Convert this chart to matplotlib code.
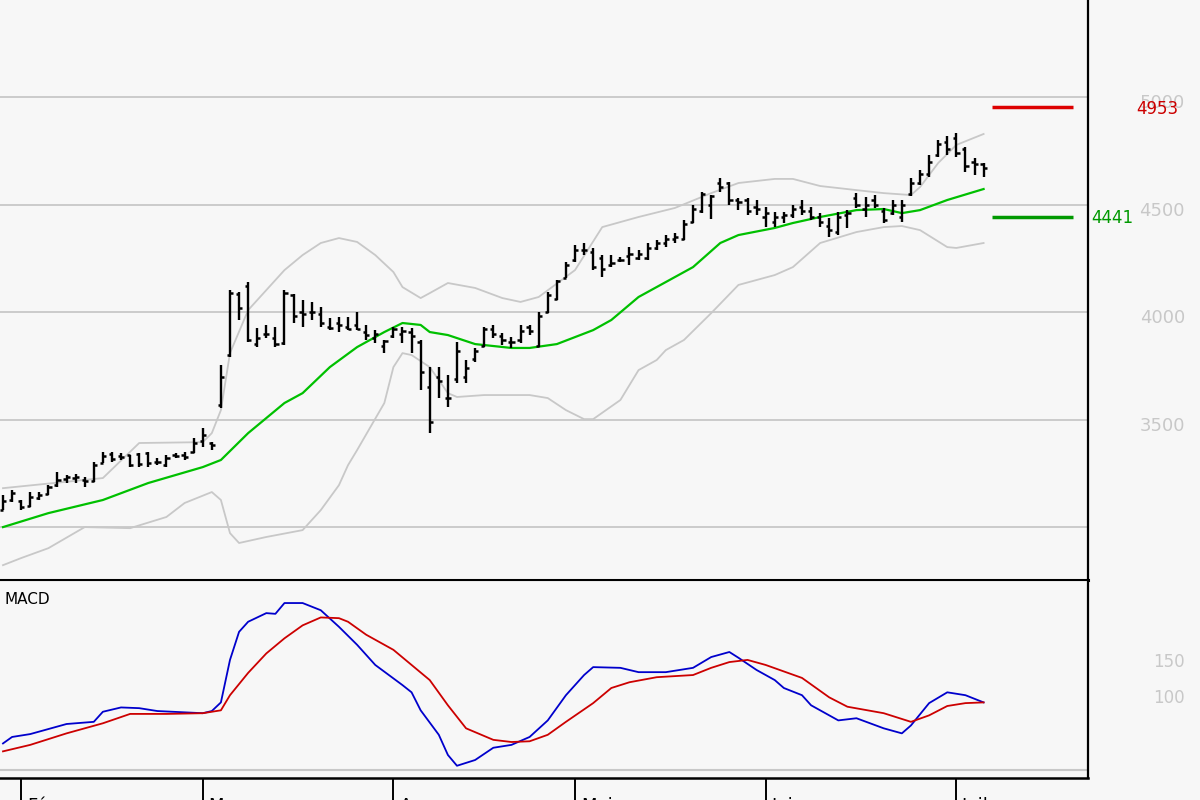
import matplotlib
matplotlib.use("Agg")
import matplotlib.pyplot as plt
import matplotlib.transforms as mtransforms

# daily OHLC
highs = [3149, 3172, 3126, 3163, 3163, 3195, 3256, 3242, 3247, 3233,
         3302, 3349, 3349, 3344, 3335, 3344, 3349, 3321, 3335, 3344,
         3349, 3414, 3460, 3395, 3753, 4102, 4093, 4140, 3926, 3940,
         3930, 4102, 4084, 4056, 4047, 4023, 3972, 3977, 3977, 4000,
         3940, 3916, 3870, 3930, 3930, 3926, 3870, 3744, 3744, 3707,
         3860, 3777, 3833, 3930, 3940, 3902, 3884, 3940, 3940, 4000,
         4093, 4149, 4233, 4312, 4321, 4298, 4265, 4265, 4256, 4302,
         4288, 4321, 4335, 4358, 4367, 4428, 4498, 4558, 4544, 4623,
         4605, 4530, 4530, 4521, 4488, 4465, 4465, 4498, 4521, 4488,
         4460, 4437, 4465, 4474, 4553, 4535, 4544, 4484, 4521, 4521,
         4623, 4660, 4730, 4800, 4819, 4832, 4767, 4716, 4693]
lows = [3079, 3116, 3079, 3093, 3126, 3149, 3186, 3205, 3205, 3186,
        3209, 3298, 3302, 3312, 3279, 3279, 3279, 3288, 3279, 3321,
        3312, 3344, 3372, 3358, 3553, 3791, 3963, 3860, 3837, 3879,
        3837, 3847, 3949, 3930, 3963, 3930, 3916, 3907, 3916, 3916,
        3870, 3856, 3809, 3879, 3856, 3809, 3637, 3437, 3600, 3558,
        3670, 3670, 3767, 3837, 3879, 3847, 3833, 3856, 3893, 3837,
        3995, 4056, 4158, 4233, 4265, 4195, 4163, 4209, 4233, 4219,
        4242, 4242, 4288, 4302, 4321, 4335, 4414, 4460, 4433, 4558,
        4498, 4474, 4451, 4451, 4395, 4395, 4414, 4437, 4451, 4428,
        4395, 4349, 4358, 4391, 4484, 4442, 4484, 4414, 4451, 4419,
        4540, 4591, 4628, 4721, 4730, 4721, 4651, 4637, 4628]
opens = [3080, 3125, 3120, 3100, 3135, 3155, 3195, 3225, 3230, 3220,
         3215, 3300, 3340, 3330, 3335, 3340, 3345, 3305, 3290, 3335,
         3335, 3350, 3400, 3390, 3570, 3800, 4085, 4120, 3850, 3900,
         3880, 3855, 4080, 4000, 4000, 3990, 3930, 3950, 3930, 3940,
         3905, 3880, 3840, 3890, 3900, 3905, 3860, 3650, 3700, 3600,
         3690, 3700, 3780, 3840, 3920, 3890, 3860, 3870, 3930, 3840,
         4000, 4060, 4160, 4240, 4290, 4280, 4250, 4220, 4240, 4260,
         4250, 4250, 4300, 4320, 4340, 4340, 4420, 4470, 4500, 4600,
         4600, 4520, 4520, 4490, 4440, 4420, 4440, 4450, 4490, 4470,
         4440, 4400, 4370, 4450, 4530, 4480, 4520, 4470, 4460, 4440,
         4550, 4600, 4640, 4730, 4790, 4810, 4760, 4700, 4690]
closes = [3120, 3160, 3095, 3140, 3150, 3185, 3220, 3235, 3235, 3215,
          3290, 3330, 3315, 3325, 3290, 3295, 3300, 3305, 3320, 3330,
          3325, 3390, 3430, 3380, 3700, 4090, 4020, 3870, 3880, 3900,
          3850, 4090, 3980, 3990, 4000, 3950, 3925, 3940, 3920, 3920,
          3895, 3900, 3865, 3920, 3910, 3890, 3720, 3490, 3680, 3600,
          3820, 3740, 3820, 3920, 3900, 3870, 3860, 3910, 3910, 3980,
          4080, 4145, 4220, 4290, 4290, 4210, 4200, 4230, 4240, 4270,
          4270, 4300, 4320, 4340, 4350, 4410, 4480, 4550, 4540, 4580,
          4520, 4510, 4470, 4480, 4460, 4440, 4450, 4480, 4470, 4440,
          4420, 4380, 4440, 4460, 4500, 4500, 4500, 4430, 4500, 4500,
          4600, 4640, 4700, 4780, 4760, 4740, 4680, 4690, 4670]

# moving average (green) sampled at bar indices
ma_idx = [0, 5, 11, 16, 22, 24, 27, 31, 33, 36, 39, 42, 44, 46, 47, 49, 52,
          56, 58, 61, 65, 67, 70, 76, 79, 81, 85, 87, 90, 94, 97, 99, 101,
          104, 108]
ma_val = [3000, 3065, 3126, 3205, 3279, 3312, 3437, 3577, 3623, 3744, 3837,
          3907, 3949, 3940, 3907, 3893, 3851, 3833, 3833, 3851, 3916, 3963,
          4070, 4209, 4321, 4358, 4391, 4414, 4442, 4474, 4479, 4460, 4474,
          4521, 4572]

# bollinger bands (grey)
up_idx = [0, 11, 15, 22, 23, 24, 25, 27, 31, 33, 35, 37, 39, 41, 43, 44, 46,
          47, 49, 52, 55, 57, 59, 63, 66, 70, 74, 78, 81, 85, 87, 90, 94, 97,
          100, 101, 103, 105, 108]
up_val = [3181, 3228, 3391, 3395, 3437, 3544, 3809, 4009, 4195, 4265, 4321,
          4344, 4326, 4265, 4186, 4116, 4065, 4088, 4135, 4112, 4065, 4047,
          4070, 4195, 4395, 4442, 4484, 4553, 4600, 4619, 4619, 4586, 4567,
          4553, 4544, 4581, 4693, 4777, 4828]
lo_idx = [0, 2, 5, 9, 14, 18, 20, 23, 24, 25, 26, 29, 33, 35, 37, 38, 39, 42,
          43, 44, 45, 47, 49, 50, 53, 58, 60, 62, 64, 65, 68, 70, 72, 73, 75,
          78, 81, 85, 87, 90, 94, 97, 99, 101, 104, 105, 108]
lo_val = [2823, 2856, 2902, 3000, 2995, 3047, 3112, 3163, 3126, 2972, 2926,
          2954, 2986, 3079, 3195, 3288, 3358, 3577, 3744, 3809, 3800, 3744,
          3623, 3605, 3614, 3614, 3600, 3544, 3502, 3502, 3591, 3730, 3777,
          3823, 3870, 3995, 4126, 4172, 4209, 4321, 4372, 4395, 4400, 4381,
          4302, 4298, 4321]

# MACD lines
macd_idx = [0, 1, 3, 7, 10, 11, 13, 15, 17, 22, 23, 24, 25, 26, 27, 29, 30,
            31, 33, 35, 37, 39, 41, 44, 45, 46, 48, 49, 50, 52, 54, 56, 58,
            60, 62, 64, 65, 68, 70, 73, 76, 78, 80, 81, 83, 85, 86, 88, 89,
            92, 94, 97, 99, 100, 102, 104, 106, 108]
macd_val = [37, 46, 50, 64, 67, 81, 87, 86, 82, 79, 82, 94, 153, 192, 206,
            218, 217, 232, 232, 222, 199, 174, 146, 118, 108, 83, 49, 21, 6,
            14, 31, 35, 46, 69, 104, 132, 143, 142, 136, 136, 142, 157, 164,
            156, 139, 125, 114, 104, 90, 69, 72, 58, 51, 62, 93, 108, 104, 94]
sig_idx = [0, 3, 7, 11, 14, 18, 22, 24, 25, 27, 29, 31, 33, 35, 37, 38, 40,
           43, 45, 47, 49, 51, 54, 56, 58, 60, 62, 65, 67, 69, 72, 76, 78,
           80, 82, 84, 88, 91, 93, 97, 100, 102, 104, 106, 108]
sig_val = [26, 35, 51, 65, 78, 78, 79, 83, 104, 135, 162, 183, 201, 212, 211,
           206, 188, 167, 146, 125, 90, 58, 42, 39, 40, 49, 67, 93, 114, 122,
           129, 132, 142, 150, 153, 146, 128, 101, 88, 79, 67, 76, 89, 93, 94]

price_grid = [3000, 3500, 4000, 4500, 5000]
price_labels = [3500, 4000, 4500, 5000]
macd_labels = [100, 150]
resistance = 4953
support = 4441
month_starts = [2, 22, 43, 63, 84, 105]
month_names = ["Févr.", "Mars", "Avr.", "Mai", "Juin", "Juil."]

bg = "#f7f7f7"
grey = "#c8c8c8"

fig = plt.figure(figsize=(12, 8), dpi=100, facecolor=bg)
ax = fig.add_axes([0, 0.275, 1088 / 1200, 0.725], facecolor=bg)
ax2 = fig.add_axes([0, 0.0275, 1088 / 1200, 0.2475], facecolor=bg, sharex=ax)

x0, x1 = -0.33, 119.5
ax.set_xlim(x0, x1)
ax.set_ylim(2754, 5451)
ax2.set_ylim(-11, 264)

for p in price_grid:
    ax.axhline(p, color=grey, lw=1.3, zorder=1)
ax2.axhline(0, color=grey, lw=1.5, zorder=1)

# bands and average
ax.plot(up_idx, up_val, color=grey, lw=1.3, zorder=2)
ax.plot(lo_idx, lo_val, color=grey, lw=1.3, zorder=2)
ax.plot(ma_idx, ma_val, color="#00c000", lw=1.6, zorder=3)

# OHLC bars
n = len(highs)
xs = list(range(n))
ax.vlines(xs, lows, highs, color="black", lw=1.7, zorder=4)
ax.hlines(opens, [i - 0.35 for i in xs], xs, color="black", lw=1.8, zorder=4)
ax.hlines(closes, xs, [i + 0.35 for i in xs], color="black", lw=1.8, zorder=4)

# resistance / support markers on the right
ax.hlines([resistance], 108.9, 117.9, color="#dd0000", lw=2.5, zorder=5)
ax.hlines([support], 108.9, 117.9, color="#009900", lw=2.5, zorder=5)

off = mtransforms.offset_copy
tr_right = mtransforms.blended_transform_factory(ax.transAxes, ax.transData)
for p in price_labels:
    ax.text(1185 / 1088, p, str(p), transform=off(tr_right, fig=fig, x=0, y=-6, units="dots"),
            ha="right", va="center", color=grey, fontsize=13, clip_on=False)
ax.text(1178 / 1088, resistance, str(resistance),
        transform=off(tr_right, fig=fig, x=0, y=-2, units="dots"),
        ha="right", va="center", color="#cc0000", fontsize=12, clip_on=False)
ax.text(1133 / 1088, support, str(support),
        transform=off(tr_right, fig=fig, x=0, y=-1, units="dots"),
        ha="right", va="center", color="#009900", fontsize=12, clip_on=False)

# MACD panel
ax2.plot(macd_idx, macd_val, color="#0000cc", lw=1.3, zorder=3)
ax2.plot(sig_idx, sig_val, color="#cc0000", lw=1.3, zorder=3)
ax2.text(0.004, 0.9, "MACD", transform=ax2.transAxes, fontsize=11,
         ha="left", va="center", color="black")
tr_right2 = mtransforms.blended_transform_factory(ax2.transAxes, ax2.transData)
for v in macd_labels:
    ax2.text(1185 / 1088, v, str(v), transform=tr_right2, ha="right", va="center",
             color=grey, fontsize=12, clip_on=False)

# frames
for a in (ax, ax2):
    a.set_xticks([])
    a.set_yticks([])
    a.spines["left"].set_visible(False)
    a.spines["right"].set_color("black")
    a.spines["right"].set_linewidth(1.6)
ax.spines["top"].set_visible(False)
ax.spines["bottom"].set_linewidth(2.2)
ax2.spines["top"].set_linewidth(0.8)
ax2.spines["bottom"].set_linewidth(1.8)

# month separators below MACD (labels sit mostly below the image edge)
ax2.set_xticks(month_starts)
ax2.set_xticklabels([])
ax2.tick_params(axis="x", direction="out", length=17, width=1.4, color="black")
ax2.set_xlim(x0, x1)
tr_b = mtransforms.blended_transform_factory(ax2.transData, ax2.transAxes)
for m, name in zip(month_starts, month_names):
    ax2.text(m, 0, name, transform=off(tr_b, fig=fig, x=6, y=-19, units="dots"),
             ha="left", va="top", fontsize=13, color="black", clip_on=False)

fig.savefig("out.png", dpi=100, facecolor=bg)
